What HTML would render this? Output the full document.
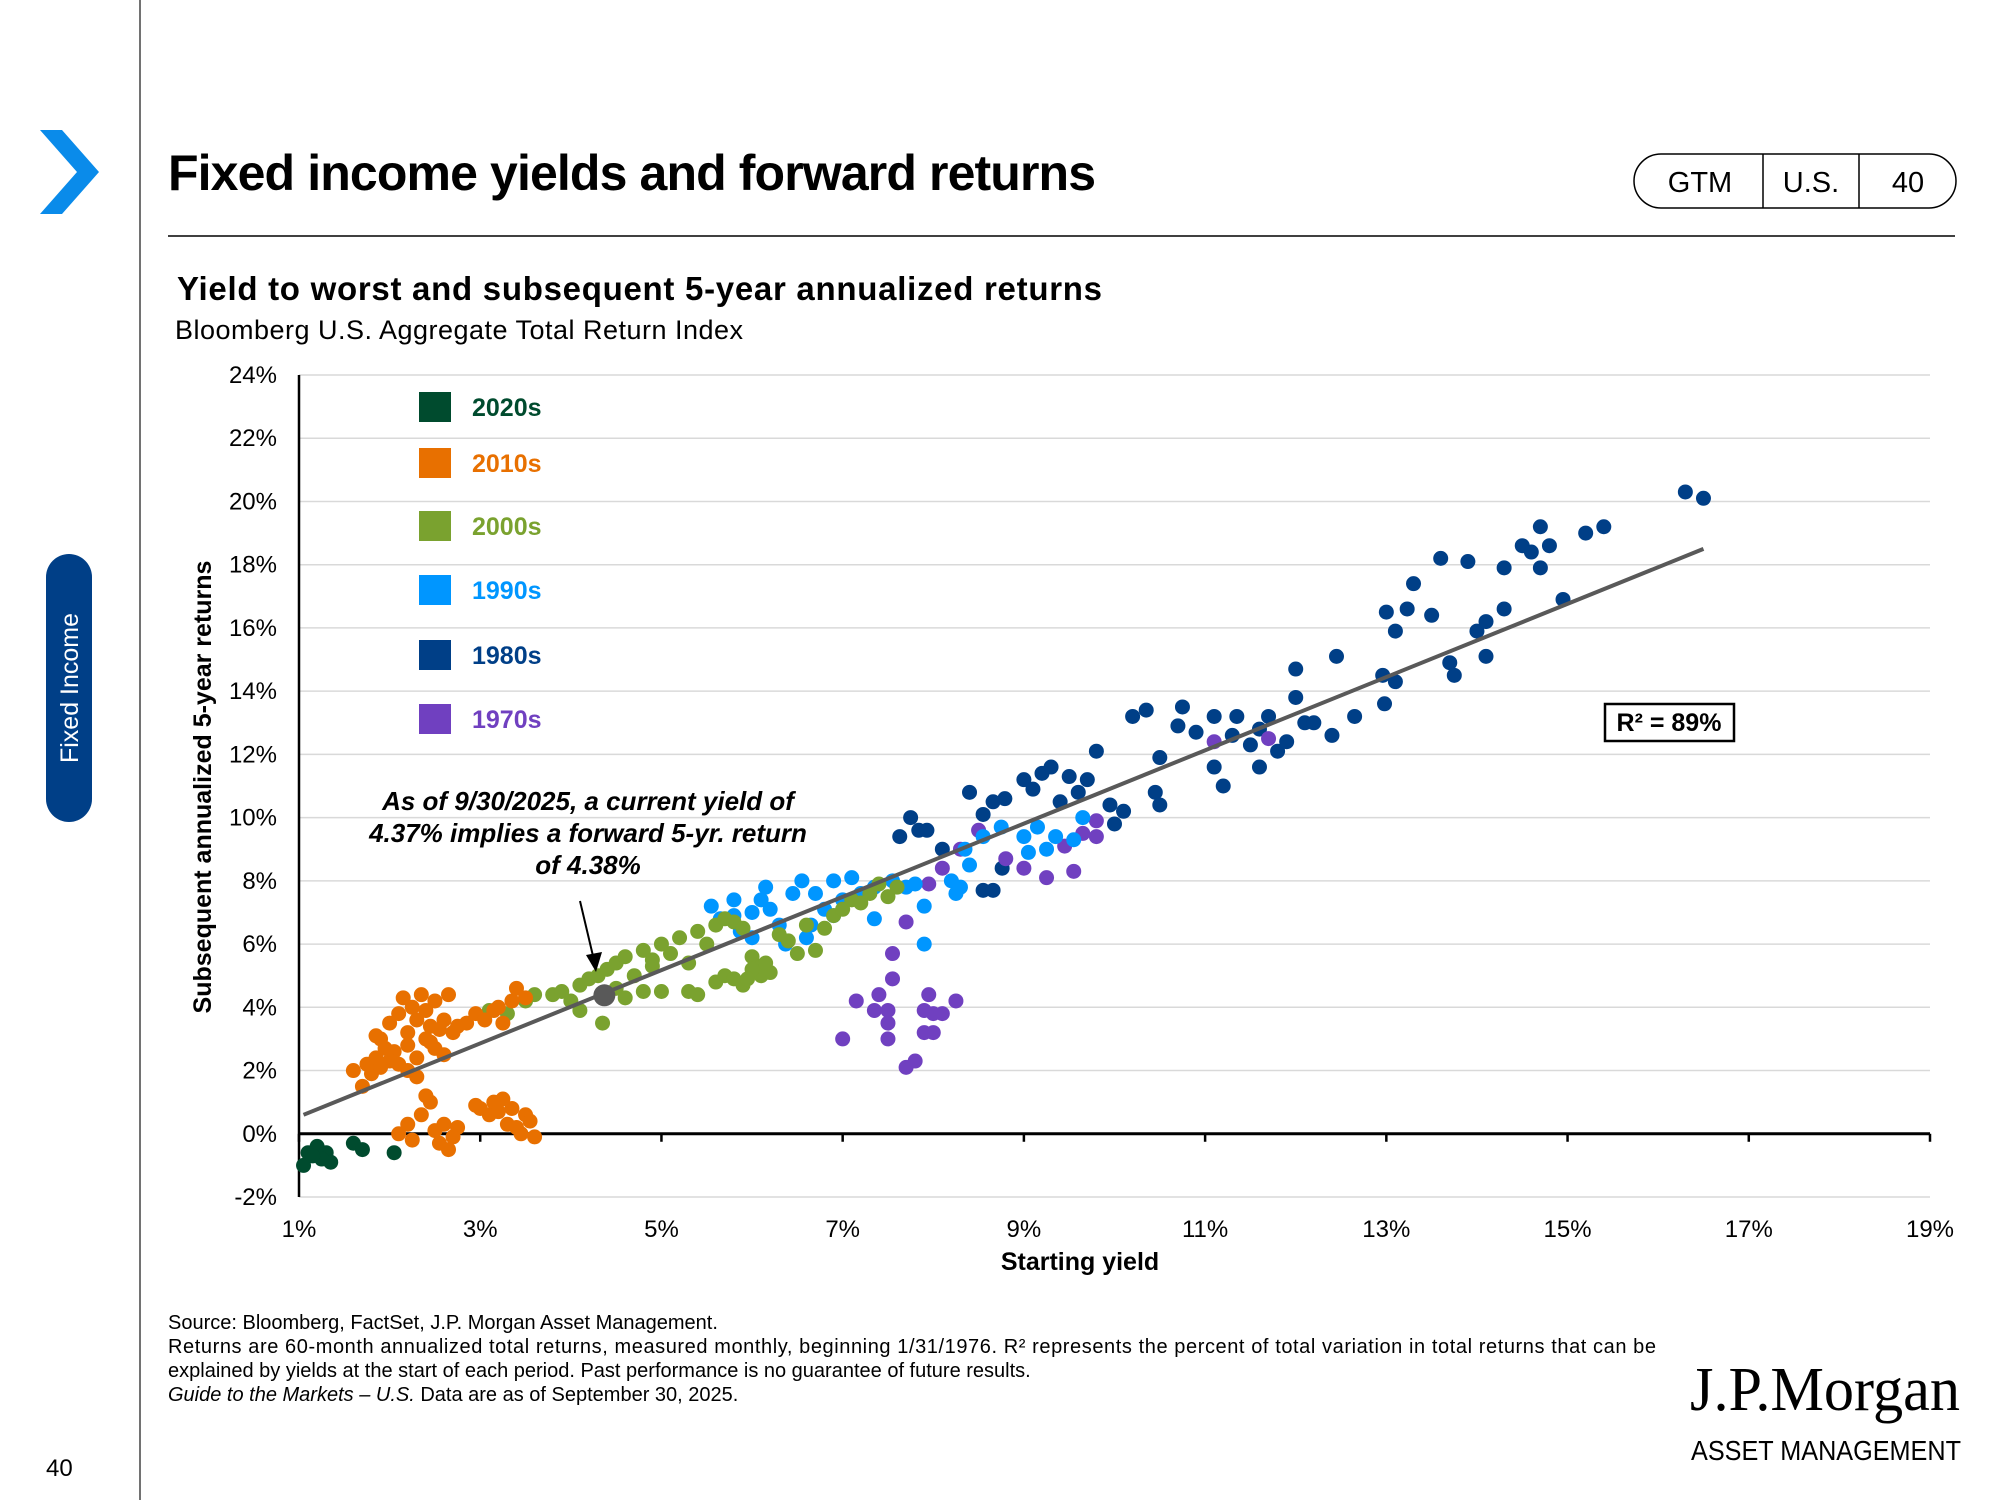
<!DOCTYPE html>
<html><head><meta charset="utf-8"><style>
html,body{margin:0;padding:0;background:#fff;}
svg{display:block;}
text{font-family:"Liberation Sans",sans-serif;}
.n{font-family:"Liberation Sans Narrow","Liberation Sans",sans-serif;}
</style></head><body>
<svg id="page" width="2000" height="1500" viewBox="0 0 2000 1500" xmlns="http://www.w3.org/2000/svg">
<line x1="140" y1="0" x2="140" y2="1500" stroke="#444" stroke-width="1.5"/>
<polygon points="40,130 62,130 99,172 62,214 40,214 77,172" fill="#0A8BEA"/>
<rect x="46" y="554" width="46" height="268" rx="23" fill="#003F87"/>
<text transform="translate(78,688) rotate(-90)" text-anchor="middle" font-size="25" fill="#fff">Fixed Income</text>
<text class="n" x="168" y="190" font-size="50" font-weight="bold" fill="#000" textLength="928">Fixed income yields and forward returns</text>
<g>
<rect x="1634" y="154" width="322" height="54" rx="27" fill="none" stroke="#000" stroke-width="1.5"/>
<line x1="1763" y1="154" x2="1763" y2="208" stroke="#000" stroke-width="1.5"/>
<line x1="1859" y1="154" x2="1859" y2="208" stroke="#000" stroke-width="1.5"/>
<text x="1700" y="192" font-size="29" text-anchor="middle">GTM</text>
<text x="1811" y="192" font-size="29" text-anchor="middle">U.S.</text>
<text x="1908" y="192" font-size="29" text-anchor="middle">40</text>
</g>
<line x1="168" y1="236" x2="1955" y2="236" stroke="#000" stroke-width="1.5"/>
<text class="n" x="177" y="300" font-size="33" font-weight="bold" textLength="925">Yield to worst and subsequent 5-year annualized returns</text>
<text class="n" x="175" y="339" font-size="27" textLength="568">Bloomberg U.S. Aggregate Total Return Index</text>
<g id="plot"></g>
<g font-size="20" fill="#000">
<text x="168" y="1329">Source: Bloomberg, FactSet, J.P. Morgan Asset Management.</text>
<text x="168" y="1353" textLength="1488">Returns are 60-month annualized total returns, measured monthly, beginning 1/31/1976. R² represents the percent of total variation in total returns that can be</text>
<text x="168" y="1377">explained by yields at the start of each period. Past performance is no guarantee of future results.</text>
<text x="168" y="1401"><tspan font-style="italic">Guide to the Markets – U.S.</tspan> Data are as of September 30, 2025.</text>
</g>
<text x="46" y="1476" font-size="24">40</text>
<text x="1690" y="1410" style="font-family:'Liberation Serif',serif" font-size="62" textLength="270" lengthAdjust="spacingAndGlyphs">J.P.Morgan</text>
<text x="1691" y="1460" font-size="28" textLength="270" lengthAdjust="spacingAndGlyphs">ASSET MANAGEMENT</text>
</svg>
<script>
const xTicks=[1,3,5,7,9,11,13,15,17,19];
const yTicks=[-2,0,2,4,6,8,10,12,14,16,18,20,22,24];
const decades=["2020s","2010s","2000s","1990s","1980s","1970s"];
const decadeColors=["#004B2E","#E87000","#7AA22F","#0096FF","#003F87","#7040C0"];
const x2020s=[1.05,1.1,1.2,1.3,1.35,1.25,1.6,1.7,2.05,1.15];
const y2020s=[-1.0,-0.6,-0.4,-0.6,-0.9,-0.8,-0.3,-0.5,-0.6,-0.7];
const x2010s=[1.6,1.7,1.75,1.8,1.85,1.85,1.9,1.95,2.0,2.05,2.1,2.1,2.15,2.2,2.2,2.25,2.3,2.3,2.35,2.4,2.4,2.45,2.5,2.5,2.55,2.6,2.65,2.7,2.75,2.85,2.95,3.05,3.15,3.2,3.25,3.35,3.4,3.5,2.0,2.2,2.3,2.45,1.9,2.6,
2.1,2.2,2.25,2.35,2.4,2.45,2.5,2.55,2.6,2.65,2.7,2.75,2.95,3.0,3.1,3.15,3.2,3.25,3.3,3.35,3.4,3.45,3.5,3.55,3.6];
const y2010s=[2.0,1.5,2.2,1.9,3.1,2.4,3.0,2.7,3.5,2.6,3.8,2.2,4.3,3.2,2.8,4.0,3.6,2.4,4.4,3.0,3.9,3.4,2.7,4.2,3.3,3.6,4.4,3.2,3.4,3.5,3.8,3.6,3.9,4.0,3.5,4.2,4.6,4.3,2.3,2.0,1.8,2.9,2.1,2.5,
0.0,0.3,-0.2,0.6,1.2,1.0,0.1,-0.3,0.3,-0.5,-0.1,0.2,0.9,0.8,0.6,1.0,0.7,1.1,0.3,0.8,0.2,0.0,0.6,0.4,-0.1];
const x2000s=[3.1,3.3,3.5,3.6,3.8,3.9,4.0,4.1,4.2,4.3,4.35,4.4,4.5,4.5,4.6,4.7,4.8,4.9,4.9,5.0,5.1,5.0,5.2,5.3,5.4,5.5,5.4,5.6,5.7,5.8,5.6,5.7,5.8,5.9,5.9,6.0,6.1,6.2,6.3,6.4,6.5,6.6,6.7,6.8,6.9,7.0,7.1,7.2,7.3,7.4,7.5,7.6,4.1,4.6,4.8,5.3,6.1,6.15,6.0,5.95];
const y2000s=[3.9,3.8,4.2,4.4,4.4,4.5,4.2,4.7,4.9,5.0,3.5,5.2,5.4,4.6,5.6,5.0,5.8,5.3,5.5,6.0,5.7,4.5,6.2,5.4,6.4,6.0,4.4,6.6,6.8,6.7,4.8,5.0,4.9,6.5,4.7,5.6,5.3,5.1,6.3,6.1,5.7,6.6,5.8,6.5,6.9,7.1,7.4,7.3,7.6,7.9,7.5,7.8,3.9,4.3,4.5,4.5,5.0,5.4,5.2,4.9];
const x1990s=[5.55,5.65,5.8,5.87,6.0,6.15,6.2,6.3,6.37,6.45,6.55,6.65,6.7,6.8,6.9,7.0,7.1,7.2,7.35,7.35,7.55,7.7,7.8,7.9,8.2,8.25,8.35,8.4,8.55,8.75,9.0,9.05,9.15,9.25,9.35,9.55,9.65,6.0,6.6,5.8,7.9,8.3,6.1,6.9];
const y1990s=[7.2,6.8,7.4,6.4,7.0,7.8,7.1,6.6,6.0,7.6,8.0,6.6,7.6,7.1,8.0,7.4,8.1,7.6,6.8,7.8,8.0,7.8,7.9,7.2,8.0,7.6,9.0,8.5,9.4,9.7,9.4,8.9,9.7,9.0,9.4,9.3,10.0,6.2,6.2,6.9,6.0,7.8,7.4,6.9];
const x1980s=[7.75,7.63,7.84,7.93,8.1,8.4,8.55,8.66,8.79,8.55,8.66,8.76,9.0,9.1,9.2,9.3,9.5,9.8,9.7,9.95,10.1,10.2,10.35,10.45,10.5,10.5,10.75,10.7,10.9,11.1,11.1,11.2,11.35,11.3,11.6,11.6,11.7,11.8,12.0,12.0,12.1,12.2,12.4,12.45,12.65,12.98,12.96,13.1,13.0,13.1,13.23,13.3,13.5,13.6,13.7,13.75,13.9,14.0,14.1,14.1,14.3,14.3,14.5,14.6,14.7,14.7,14.8,14.95,15.2,15.4,16.3,16.5,9.4,9.6,10.0,11.5,11.9];
const y1980s=[10.0,9.4,9.6,9.6,9.0,10.8,10.1,10.5,10.6,7.7,7.7,8.4,11.2,10.9,11.4,11.6,11.3,12.1,11.2,10.4,10.2,13.2,13.4,10.8,10.4,11.9,13.5,12.9,12.7,13.2,11.6,11.0,13.2,12.6,12.8,11.6,13.2,12.1,14.7,13.8,13.0,13.0,12.6,15.1,13.2,13.6,14.5,14.3,16.5,15.9,16.6,17.4,16.4,18.2,14.9,14.5,18.1,15.9,16.2,15.1,17.9,16.6,18.6,18.4,17.9,19.2,18.6,16.9,19.0,19.2,20.3,20.1,10.5,10.8,9.8,12.3,12.4];
const x1970s=[7.0,7.15,7.35,7.4,7.5,7.5,7.5,7.55,7.55,7.7,7.8,7.9,7.9,7.95,8.0,8.0,8.1,8.25,7.7,7.95,8.1,8.3,8.5,8.8,9.0,9.25,9.45,9.55,9.65,9.8,9.8,11.1,11.7];
const y1970s=[3.0,4.2,3.9,4.4,3.9,3.5,3.0,4.9,5.7,2.1,2.3,3.2,3.9,4.4,3.2,3.8,3.8,4.2,6.7,7.9,8.4,9.0,9.6,8.7,8.4,8.1,9.1,8.3,9.5,9.4,9.9,12.4,12.5];
const seriesX=[x2020s,x2010s,x2000s,x1990s,x1980s,x1970s];
const seriesY=[y2020s,y2010s,y2000s,y1990s,y1980s,y1970s];
const fitX=[1.05,16.5];
const fitY=[0.6,18.5];
const currentYield=[4.37];
const currentReturn=[4.38];
const rSquared="R² = 89%";

const NS="http://www.w3.org/2000/svg";
const L=299,R=1930,T=375,B=1197;
const xMin=1,xMax=19,yMin=-2,yMax=24;
function sx(v){return L+(v-xMin)/(xMax-xMin)*(R-L);}
function sy(v){return B-(v-yMin)/(yMax-yMin)*(B-T);}
const plot=document.getElementById('plot');
function mk(tag,attrs,parent){const e=document.createElementNS(NS,tag);for(const k in attrs)e.setAttribute(k,attrs[k]);(parent||plot).appendChild(e);return e;}

yTicks.forEach(t=>{
  if(t!==0){const g=mk('line',{x1:L,x2:R,y1:sy(t),y2:sy(t),stroke:'#d9d9d9','stroke-width':1.5});
  
  }
  const tx=mk('text',{x:277,y:sy(t)+8,'text-anchor':'end','font-size':24,fill:'#000'});
  tx.textContent=t+'%';
  
  
});
const ya=mk('line',{x1:L,x2:L,y1:T,y2:B,stroke:'#000','stroke-width':2.5});


const xa=mk('line',{x1:L,x2:R,y1:sy(0),y2:sy(0),stroke:'#000','stroke-width':3});


xTicks.forEach(t=>{
  const tk=mk('line',{x1:sx(t),x2:sx(t),y1:sy(0),y2:sy(0)+8,stroke:'#000','stroke-width':2.5});
  
  
  const tx=mk('text',{x:sx(t),y:1237,'text-anchor':'middle','font-size':24,fill:'#000'});
  tx.textContent=t+'%';
  
  
});
const xt=mk('text',{x:1080,y:1270,'text-anchor':'middle','font-size':25,'font-weight':'bold'});
xt.textContent='Starting yield';


const yt=mk('text',{transform:'translate(211,787) rotate(-90)','text-anchor':'middle','font-size':25,'font-weight':'bold'});
yt.textContent='Subsequent annualized 5-year returns';



[4,5,3,2,1,0].forEach(si=>{
  const g=mk('g',{fill:decadeColors[si]});
  
  
  seriesX[si].forEach((xv,i)=>{
    const c=mk('circle',{cx:sx(xv),cy:sy(seriesY[si][i]),r:7.5},g);
    
    
  });
});
const fl=mk('line',{x1:sx(fitX[0]),y1:sy(fitY[0]),x2:sx(fitX[1]),y2:sy(fitY[1]),stroke:'#595959','stroke-width':4});


const cp=mk('circle',{cx:sx(currentYield[0]),cy:sy(currentReturn[0]),r:11,fill:'#595959'});



const lg=mk('g',{});


const legY=[407,463,526,590,655,719];
decades.forEach((d,i)=>{
  const e=mk('g',{},lg);
  
  
  mk('rect',{x:419,y:legY[i]-15,width:32,height:30,fill:decadeColors[i]},e);
  const t=mk('text',{x:472,y:legY[i]+9,'font-size':25,'font-weight':'bold',fill:decadeColors[i]},e);
  t.textContent=d;
});

const an=mk('g',{'font-size':26,'font-weight':'bold','font-style':'italic','text-anchor':'middle'});


['As of 9/30/2025,  a current  yield of','4.37%  implies a forward  5-yr. return','of 4.38%'].forEach((s,i)=>{
  const t=mk('text',{x:588,y:810+i*32},an);t.textContent=s;
});
const ar=mk('line',{x1:580,y1:901,x2:593,y2:956,stroke:'#000','stroke-width':2});


const ah=mk('polygon',{points:'586,955 602,952 596,972',fill:'#000'});



const rb=mk('g',{});


mk('rect',{x:1605,y:704,width:129,height:37,fill:'#fff',stroke:'#000','stroke-width':2.5},rb);
const rt=mk('text',{x:1669,y:731,'text-anchor':'middle','font-size':25,'font-weight':'bold'},rb);
rt.textContent=rSquared;
</script>
</body></html>
